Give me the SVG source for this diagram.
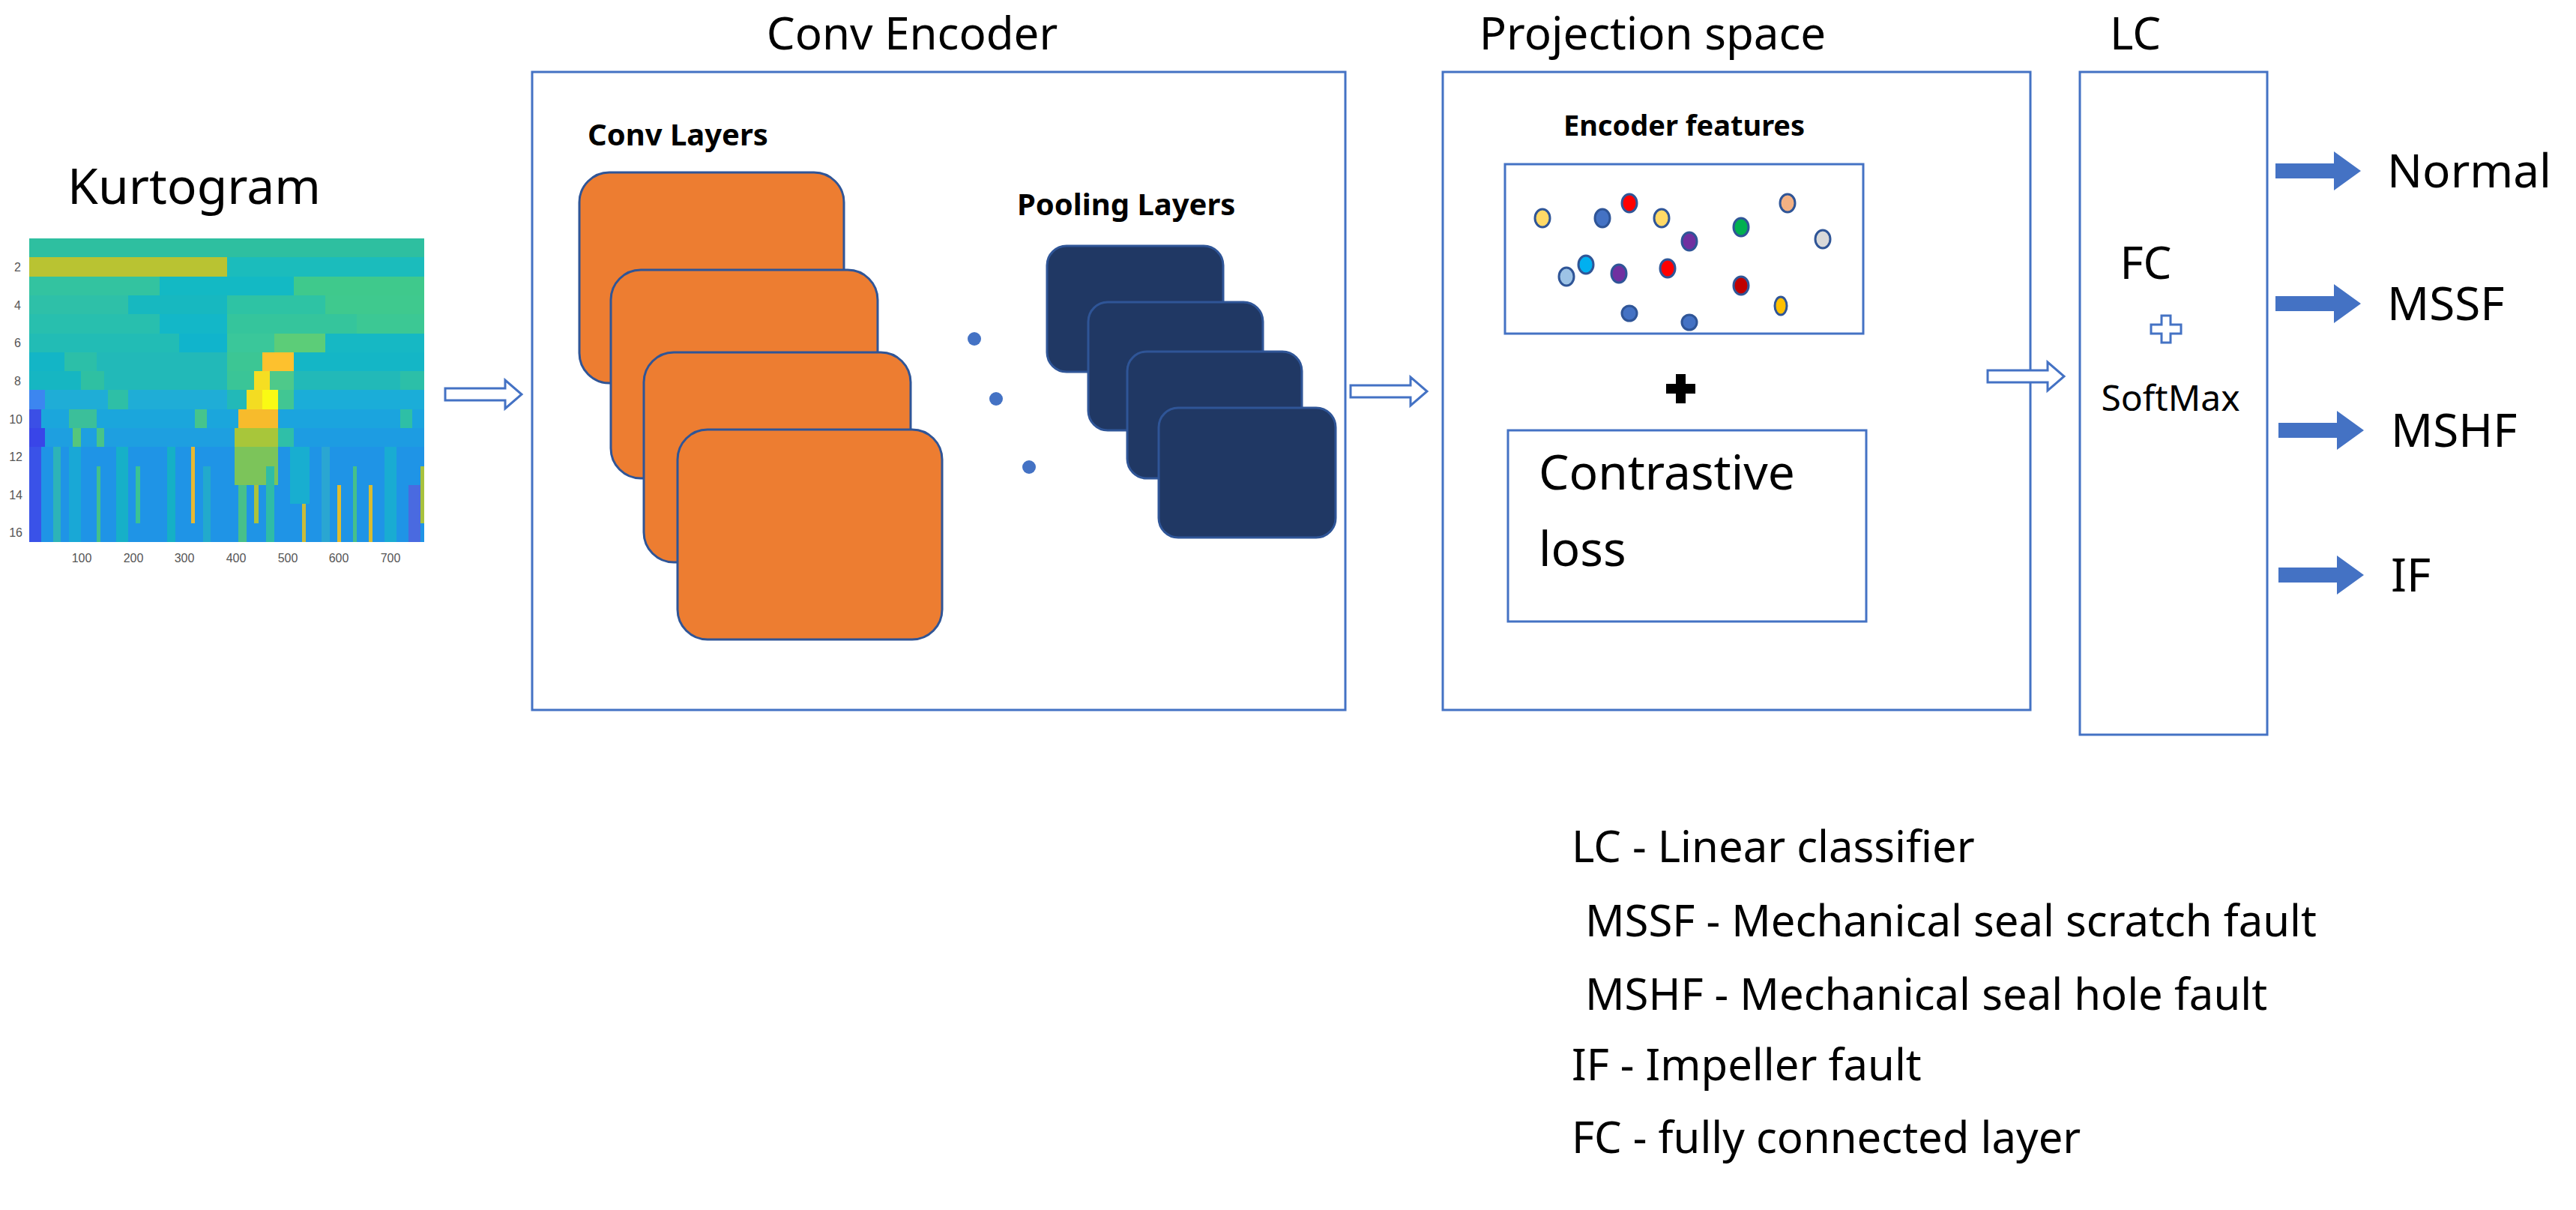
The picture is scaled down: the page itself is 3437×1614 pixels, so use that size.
<svg xmlns="http://www.w3.org/2000/svg" width="3437" height="1614" viewBox="0 0 3437 1614">
<style>
.t{font-family:"Noto Sans","Open Sans",sans-serif;fill:#000}
.b{font-family:"Noto Sans","Open Sans",sans-serif;font-weight:bold;fill:#000}
.box{fill:#fff;stroke:#4472c4;stroke-width:3}
.or{fill:#ed7d31;stroke:#2f5597;stroke-width:3}
.nv{fill:#203864;stroke:#2f5597;stroke-width:3}
.hol{fill:#fff;stroke:#4472c4;stroke-width:3}
.sol{fill:#4472c4}
.dot{stroke:#2f5597;stroke-width:3}
.ax{font-family:"Liberation Sans",sans-serif;font-size:16px;fill:#555}
</style>
<rect width="3437" height="1614" fill="#fff"/>

<g id="kurtogram">
<text class="t" x="259" y="272" font-size="66" text-anchor="middle">Kurtogram</text>
<g transform="translate(39,318) scale(5.27,25.3)" shape-rendering="crispEdges">
<rect x="0" y="0" width="100" height="16" fill="#22b9b8"/>
<rect x="0" y="0" width="100" height="1" fill="#2ebfa0"/>
<rect x="0" y="1" width="50" height="1" fill="#b9c332"/>
<rect x="50" y="1" width="50" height="1" fill="#1bbcbc"/>
<rect x="0" y="2" width="33" height="1" fill="#33c3a0"/>
<rect x="33" y="2" width="34" height="1" fill="#13b9c4"/>
<rect x="67" y="2" width="33" height="1" fill="#3fc98c"/>
<rect x="0" y="3" width="25" height="1" fill="#2ec0a8"/>
<rect x="25" y="3" width="25" height="1" fill="#17b8c0"/>
<rect x="50" y="3" width="25" height="1" fill="#2ec3a4"/>
<rect x="75" y="3" width="25" height="1" fill="#3fc98e"/>
<rect x="0" y="4" width="33" height="1" fill="#28bfae"/>
<rect x="33" y="4" width="17" height="1" fill="#13b7c8"/>
<rect x="50" y="4" width="33" height="1" fill="#35c59c"/>
<rect x="83" y="4" width="17" height="1" fill="#3cc894"/>
<rect x="0" y="5" width="38" height="1" fill="#22bcb5"/>
<rect x="38" y="5" width="12" height="1" fill="#10b4cc"/>
<rect x="50" y="5" width="12" height="1" fill="#3ac79a"/>
<rect x="62" y="5" width="13" height="1" fill="#5ccd78"/>
<rect x="75" y="5" width="25" height="1" fill="#16b8c4"/>
<rect x="0" y="6" width="9" height="1" fill="#13b5c6"/>
<rect x="9" y="6" width="8" height="1" fill="#2cbfa8"/>
<rect x="50" y="6" width="9" height="1" fill="#3cc694"/>
<rect x="59" y="6" width="8" height="1" fill="#fdc12e"/>
<rect x="67" y="6" width="33" height="1" fill="#14b6c6"/>
<rect x="0" y="7" width="13" height="1" fill="#16b6c2"/>
<rect x="13" y="7" width="6" height="1" fill="#2fc0a2"/>
<rect x="50" y="7" width="7" height="1" fill="#3ac597"/>
<rect x="57" y="7" width="4" height="1" fill="#f5de22"/>
<rect x="61" y="7" width="6" height="1" fill="#4ec98a"/>
<rect x="94" y="7" width="6" height="1" fill="#2cbfa8"/>
<rect x="0" y="8" width="4" height="1" fill="#3c86f0"/>
<rect x="4" y="8" width="46" height="1" fill="#1fadd6"/>
<rect x="20" y="8" width="5" height="1" fill="#2ebfa6"/>
<rect x="55" y="8" width="4" height="1" fill="#f3dc22"/>
<rect x="59" y="8" width="4" height="1" fill="#fafa14"/>
<rect x="63" y="8" width="37" height="1" fill="#1badd8"/>
<rect x="63" y="8" width="4" height="1" fill="#41c693"/>
<rect x="0" y="9" width="3" height="1" fill="#3b4fe6"/>
<rect x="3" y="9" width="50" height="1" fill="#1ba6dc"/>
<rect x="10" y="9" width="7" height="1" fill="#3bbf9a"/>
<rect x="42" y="9" width="3" height="1" fill="#46c48c"/>
<rect x="53" y="9" width="10" height="1" fill="#f7bb2c"/>
<rect x="63" y="9" width="37" height="1" fill="#1ba4de"/>
<rect x="94" y="9" width="3" height="1" fill="#2ebfa6"/>
<rect x="0" y="10" width="4" height="1" fill="#3945e8"/>
<rect x="4" y="10" width="48" height="1" fill="#1e9fe0"/>
<rect x="11" y="10" width="2" height="1" fill="#55c67c"/>
<rect x="17" y="10" width="2" height="1" fill="#48c489"/>
<rect x="52" y="10" width="11" height="1" fill="#a8c63a"/>
<rect x="63" y="10" width="4" height="1" fill="#2fbfa8"/>
<rect x="67" y="10" width="33" height="1" fill="#1d9ce2"/>
<rect x="0" y="11" width="100" height="5" fill="#1f94e6"/>
<rect x="0" y="11" width="3" height="5" fill="#3a52e8"/>
<rect x="6" y="11" width="2" height="5" fill="#2db3b8"/>
<rect x="10" y="11" width="3" height="5" fill="#19a8d6"/>
<rect x="17" y="12" width="1" height="4" fill="#43c08a"/>
<rect x="22" y="11" width="3" height="5" fill="#16b0c8"/>
<rect x="27" y="12" width="1" height="3" fill="#3ac294"/>
<rect x="35" y="11" width="2" height="5" fill="#15b0c6"/>
<rect x="41" y="11" width="1" height="4" fill="#e6b832"/>
<rect x="44" y="12" width="2" height="4" fill="#22aacc"/>
<rect x="52" y="11" width="11" height="2" fill="#7cc45a"/>
<rect x="53" y="13" width="2" height="3" fill="#47c08a"/>
<rect x="57" y="13" width="1" height="2" fill="#aac33c"/>
<rect x="60" y="12" width="2" height="4" fill="#2fbca6"/>
<rect x="66" y="11" width="5" height="3" fill="#18aed0"/>
<rect x="69" y="14" width="1" height="2" fill="#c8bc3a"/>
<rect x="74" y="11" width="2" height="5" fill="#2aa6d2"/>
<rect x="78" y="13" width="1" height="3" fill="#e2bc2e"/>
<rect x="82" y="12" width="1" height="4" fill="#46c08a"/>
<rect x="86" y="13" width="1" height="3" fill="#d8bc30"/>
<rect x="90" y="11" width="3" height="5" fill="#19acd2"/>
<rect x="96" y="13" width="3" height="3" fill="#4a6ae0"/>
<rect x="99" y="12" width="1" height="3" fill="#a8c23e"/>
</g>
<g class="ax">
<text x="28" y="362" text-anchor="end">2</text>
<text x="28" y="413" text-anchor="end">4</text>
<text x="28" y="463" text-anchor="end">6</text>
<text x="28" y="514" text-anchor="end">8</text>
<text x="30" y="565" text-anchor="end">10</text>
<text x="30" y="615" text-anchor="end">12</text>
<text x="30" y="666" text-anchor="end">14</text>
<text x="30" y="716" text-anchor="end">16</text>
<text x="109" y="750" text-anchor="middle">100</text>
<text x="178" y="750" text-anchor="middle">200</text>
<text x="246" y="750" text-anchor="middle">300</text>
<text x="315" y="750" text-anchor="middle">400</text>
<text x="384" y="750" text-anchor="middle">500</text>
<text x="452" y="750" text-anchor="middle">600</text>
<text x="521" y="750" text-anchor="middle">700</text>
</g>
</g>

<g id="conv-encoder">
<text class="t" x="1217" y="66" font-size="60" text-anchor="middle">Conv  Encoder</text>
<rect class="box" x="710" y="96" width="1085" height="851"/>
<text class="b" x="784" y="194" font-size="40">Conv Layers</text>
<rect class="or" x="773" y="230" width="353" height="281" rx="40"/>
<rect class="or" x="815" y="360" width="356" height="278" rx="40"/>
<rect class="or" x="859" y="470" width="356" height="280" rx="40"/>
<rect class="or" x="904" y="573" width="353" height="280" rx="40"/>
<circle cx="1300" cy="452" r="9" fill="#4472c4"/>
<circle cx="1329" cy="532" r="9" fill="#4472c4"/>
<circle cx="1373" cy="623" r="9" fill="#4472c4"/>
<text class="b" x="1357" y="287" font-size="40">Pooling Layers</text>
<rect class="nv" x="1397" y="328" width="235" height="168" rx="26"/>
<rect class="nv" x="1452" y="403" width="233" height="171" rx="26"/>
<rect class="nv" x="1504" y="469" width="233" height="169" rx="26"/>
<rect class="nv" x="1546" y="544" width="236" height="173" rx="26"/>
</g>

<g id="projection-space">
<text class="t" x="2205" y="66" font-size="60" text-anchor="middle">Projection space</text>
<rect class="box" x="1925" y="96" width="784" height="851"/>
<text class="b" x="2247" y="181" font-size="38" text-anchor="middle">Encoder features</text>
<rect class="box" x="2008" y="219" width="478" height="226"/>
<g class="dot">
<ellipse cx="2058" cy="291" rx="10" ry="12" fill="#ffd966"/>
<ellipse cx="2138" cy="291" rx="10" ry="12" fill="#4472c4"/>
<ellipse cx="2174" cy="271" rx="10" ry="12" fill="#ff0000"/>
<ellipse cx="2217" cy="291" rx="10" ry="12" fill="#ffd966"/>
<ellipse cx="2254" cy="322" rx="10" ry="12" fill="#7030a0"/>
<ellipse cx="2323" cy="303" rx="10" ry="12" fill="#00b050"/>
<ellipse cx="2385" cy="271" rx="10" ry="12" fill="#f4b183"/>
<ellipse cx="2432" cy="319" rx="10" ry="12" fill="#d9d9d9"/>
<ellipse cx="2090" cy="369" rx="10" ry="12" fill="#9dc3e6"/>
<ellipse cx="2116" cy="353" rx="10" ry="12" fill="#00b0f0"/>
<ellipse cx="2160" cy="365" rx="10" ry="12" fill="#7030a0"/>
<ellipse cx="2225" cy="358" rx="10" ry="12" fill="#ff0000"/>
<ellipse cx="2323" cy="381" rx="10" ry="12" fill="#c00000"/>
<ellipse cx="2376" cy="408" rx="8" ry="12" fill="#ffc000"/>
<ellipse cx="2174" cy="418" rx="10" ry="10" fill="#4472c4"/>
<ellipse cx="2254" cy="430" rx="10" ry="10" fill="#4472c4"/>
</g>
<path d="M2236,499 h13 v13 h13 v13 h-13 v13 h-13 v-13 h-13 v-13 h13 z" fill="#000"/>
<rect class="box" x="2012" y="574" width="478" height="255"/>
<text class="t" x="2053" y="653" font-size="64">Contrastive</text>
<text class="t" x="2053" y="755" font-size="64">loss</text>
</g>

<g id="lc">
<text class="t" x="2849" y="66" font-size="60" text-anchor="middle">LC</text>
<rect class="box" x="2775" y="96" width="250" height="884"/>
<text class="t" x="2863" y="372" font-size="60" text-anchor="middle">FC</text>
<path d="M2884,421 h12 v12 h14 v12 h-14 v12 h-12 v-12 h-14 v-12 h14 z" fill="#fff" stroke="#4472c4" stroke-width="3"/>
<text class="t" x="2896" y="548" font-size="48" text-anchor="middle">SoftMax</text>
</g>

<g id="outputs">
<text class="t" x="3185" y="250" font-size="62">Normal</text>
<text class="t" x="3185" y="427" font-size="62">MSSF</text>
<text class="t" x="3190" y="596" font-size="62">MSHF</text>
<text class="t" x="3190" y="789" font-size="62">IF</text>
</g>

<g id="legend">
<text class="t" x="2097" y="1150" font-size="58">LC -  Linear classifier</text>
<text class="t" x="2115" y="1249" font-size="58">MSSF  -  Mechanical seal scratch fault</text>
<text class="t" x="2115" y="1347" font-size="58">MSHF -  Mechanical seal hole fault</text>
<text class="t" x="2097" y="1441" font-size="58">IF - Impeller fault</text>
<text class="t" x="2097" y="1538" font-size="58">FC - fully connected layer</text>
</g>

<g id="connectors">
<path class="hol" d="M594,518 h80 v-11 l22,19 l-22,19 v-11 h-80 z"/>
<path class="hol" d="M1802,514 h80 v-11 l22,19 l-22,19 v-11 h-80 z"/>
<path class="hol" d="M2652,494 h80 v-11 l22,19 l-22,19 v-11 h-80 z"/>
<path class="sol" d="M3036,218 h78 v-16 l36,26 l-36,26 v-16 h-78 z"/>
<path class="sol" d="M3036,395 h78 v-16 l36,26 l-36,26 v-16 h-78 z"/>
<path class="sol" d="M3040,564 h78 v-16 l36,26 l-36,26 v-16 h-78 z"/>
<path class="sol" d="M3040,757 h78 v-16 l36,26 l-36,26 v-16 h-78 z"/>
</g>
</svg>
